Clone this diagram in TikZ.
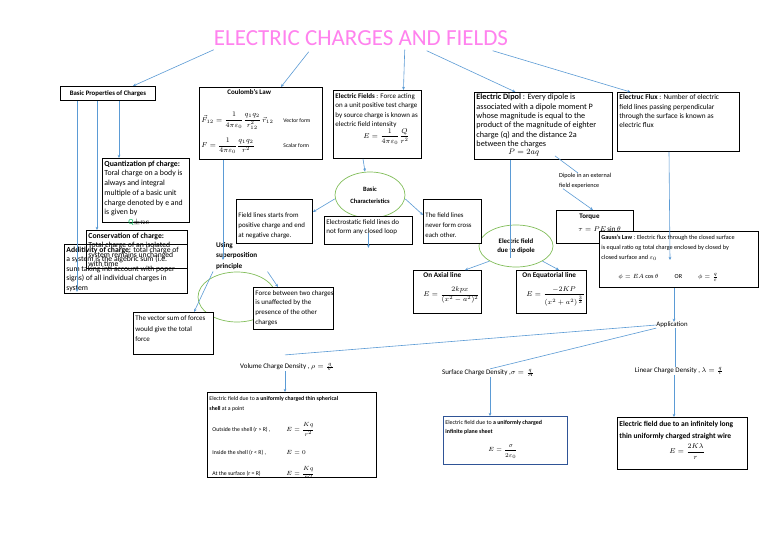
\documentclass[tikz,border=0pt]{standalone}
\usepackage{amsmath}
\usepackage{fontspec}
\setmainfont{Carlito}
\usetikzlibrary{arrows.meta,shapes.geometric}

\definecolor{titlepink}{RGB}{255,130,238}
\definecolor{linkblue}{RGB}{91,155,213}
\definecolor{ringgreen}{RGB}{130,190,90}
\definecolor{sheetblue}{RGB}{47,84,150}
\definecolor{qgreen}{RGB}{0,176,80}

% top aligned text block: width, height, lines
\newcommand\tb[3]{\parbox[t][#2pt][t]{#1pt}{\begin{tabular}[t]{@{}l@{}}#3\end{tabular}}}
\newcommand\fsz[2]{\fontsize{#1}{#2}\selectfont}

\tikzset{
  box/.style={draw, line width=0.9pt, fill=white, inner xsep=2pt, inner ysep=1pt, anchor=north west},
  clearbox/.style={box, fill=none},
  ring/.style={ellipse, draw=ringgreen, line width=0.7pt, inner sep=0pt, align=center},
  arr/.style={draw=linkblue, line width=0.6pt, -{Stealth[length=3.2pt,width=2.8pt]}},
  link/.style={draw=linkblue, line width=0.6pt},
  lbl/.style={inner sep=0pt, align=left},
}

\begin{document}
\begin{tikzpicture}[x=1pt,y=-1pt]
\useasboundingbox[fill=white] (0,0) rectangle (768,543);

\node[font=\fsz{23}{27}, text=titlepink, inner sep=0pt] (title) at (361,38) {ELECTRIC CHARGES AND FIELDS};

% green rings
\node[ring, minimum width=70pt, minimum height=46pt, font=\bfseries\fsz{6.5}{12}] (bc) at (370,195) {Basic\\Characteristics};
\node[ring, minimum width=78pt, minimum height=50pt] (supring) at (237,297) {};
\node[ring, minimum width=74pt, minimum height=42pt, font=\bfseries\fsz{6.8}{9}] (dipring) at (516,246) {Electric field\\due to dipole};

% left column
\node[box, minimum width=95pt, minimum height=14pt, inner sep=0pt, font=\bfseries\fsz{6.8}{8}] (basic) at (60,86) {Basic Properties of Charges};
\node[box, font=\fsz{7.8}{9.7}] (quant) at (102,158) {\tb{83}{62}{\textbf{Quantization pf charge:}\\ Toral charge on a body is\\ always and integral\\ multiple of a basic unit\\ charge denoted by e and\\ is given by\\ \hspace*{24pt}{\color{qgreen}Q}$\pm ne$}};
\node[clearbox, font=\fsz{7.7}{9.5}] (cons) at (86,230) {\tb{97}{36}{\textbf{Conservation of charge:}\\ Total charge of an isolated\\ system remains unchanged\\ with time}};
\node[clearbox, font=\fsz{7.7}{9.5}] (addit) at (64,244) {\tb{119}{47}{\textbf{Additivity of charge:} total charge of\\ a system is the algebric sum (i.e.\\ sum taking inti account with poper\\ signs) of all individual charges in\\ system}};

% Coulomb
\node[box, font=\fsz{7}{9}] (coul) at (199,87) {\tb{119}{70}{\hspace*{26pt}\textbf{Coulomb's Law}\\[15pt]
  \makebox[82pt][l]{$\vec{F}_{12}=\dfrac{1}{4\pi\varepsilon_0}\dfrac{q_1q_2}{r_{12}^2}\,\vec{r}_{12}$}{\fsz{5.6}{6}Vector form}\\[13pt]
  \makebox[82pt][l]{$F=\dfrac{1}{4\pi\varepsilon_0}\dfrac{q_1q_2}{r^2}$}{\fsz{5.6}{6}Scalar form}}};
\node[lbl, anchor=north west, font=\bfseries\fsz{7.2}{10.5}] (usp) at (216,242) {Using\\superposition\\principle};
\node[box, font=\fsz{7}{10.5}] (vecsum) at (133,312) {\tb{76}{40}{The vector sum of forces\\ would give the total\\ force}};
\node[box, font=\fsz{7}{9.7}] (force) at (253,287) {\tb{76}{40}{Force between two charges\\ is unaffected by the\\ presence of the other\\ charges}};

% electric field
\node[box, font=\fsz{7}{9.5}] (efield) at (333,90) {\tb{84}{66}{\textbf{Electric Fields} : Force acting\\ on a unit positive test charge\\ by source charge is known as\\ electric field intensity\\[-1pt] \hspace*{28pt}$E=\dfrac{1}{4\pi\varepsilon_0}\dfrac{Q}{r^2}$}};
\node[box, font=\fsz{6.9}{10}] (fl1) at (236,199) {\tb{72}{42}{\\ Field lines starts from\\ positive charge and end\\ at negative charge.}};
\node[box, font=\fsz{7}{9.5}] (fl2) at (324,216) {\tb{84}{26}{Electrostatic field lines do\\ not form any closed loop}};
\node[box, font=\fsz{6.8}{10}] (fl3) at (423,199) {\tb{54}{42}{\\ The field lines\\ never form cross\\ each other.}};

% dipole
\node[box, font=\fsz{8.2}{9.3}] (dipol) at (474,92) {\tb{134}{65}{\textbf{Electric Dipol} : Every dipole is\\ associated with a dipole moment P\\ whose magnitude is equal to the\\ product of the magnitude of eighter\\ charge (q) and the distance 2a\\ between the charges\\[-1pt] \hspace*{32pt}$P=2aq$}};
\node[lbl, anchor=north west, font=\fsz{6.2}{10}] (dipext) at (559,173) {Dipole in an external\\field experience};
\node[box, font=\fsz{7}{10}] (torque) at (556,210) {\tb{73}{31}{\hspace*{21pt}\textbf{Torque}\\[3pt] \hspace*{20pt}$\tau = PE\sin\theta$}};
\node[box, font=\fsz{7.2}{9}] (axial) at (413,270) {\tb{64}{41}{\hspace*{8pt}\textbf{On Axial line}\\[6pt] \hspace*{8pt}$E=\dfrac{2kpx}{(x^2-a^2)^2}$}};
\node[box, font=\fsz{7.2}{9}] (equat) at (516,270) {\tb{66}{41}{\hspace*{4pt}\textbf{On Equatorial line}\\[6pt] \hspace*{8pt}$E=\dfrac{-2KP}{(x^2+a^2)^{\frac{3}{2}}}$}};

% flux
\node[box, font=\fsz{7.3}{9.3}] (flux) at (617,92) {\tb{118}{57}{\textbf{Electruc Flux} : Number of electric\\ field lines passing perpendicular\\ through the surface is known as\\ electric flux}};
\node[box, font=\fsz{6.2}{10}] (gauss) at (599,231) {\tb{155}{54}{\textbf{Gauss's Law} : Electric flux through the closed surface\\ is equal ratio og total charge enclosed by closed by\\ closed surface and $\varepsilon_0$\\[9pt] \hspace*{17pt}$\phi = EA\cos\theta$\hspace{16pt}OR\hspace{16pt}$\phi=\frac{q}{\varepsilon}$}};

% applications
\node[lbl, font=\fsz{6.8}{8}] (appl) at (672,325) {Application};
\node[lbl, font=\fsz{7}{8}] (vol) at (287,367) {Volume Charge Density , $\rho=\frac{q}{V}$};
\node[lbl, font=\fsz{7}{8}] (surf) at (488,373) {Surface Charge Density ,$\sigma=\frac{q}{A}$};
\node[lbl, font=\fsz{7}{8}] (lin) at (679,371) {Linear Charge Density , $\lambda=\frac{q}{l}$};

\begin{scope}
  \clip (205,390) rectangle (378,477.5);
  \node[box, font=\fsz{5.8}{10}] (shell) at (207,392) {\tb{165}{83}{Electric field due to \textbf{a uniformly charged thin spherical}\\ \textbf{shell} at a point\\[9pt]
    \hspace*{3pt}\makebox[74pt][l]{Outside the shell (r > R) ,}$E=\dfrac{Kq}{r^2}$\\[13pt]
    \hspace*{3pt}\makebox[74pt][l]{Inside the shell (r < R) ,}$E=0$\\[9pt]
    \hspace*{3pt}\makebox[74pt][l]{At the surface (r = R)}$E=\dfrac{Kq}{R^2}$}};
\end{scope}
\node[box, draw=sheetblue, font=\fsz{5.9}{9.5}] (sheet) at (443,416) {\tb{120}{46}{Electric field due to \textbf{a uniformly charged}\\ \textbf{infinite plane sheet}\\[8pt] \hspace*{43pt}$E=\dfrac{\sigma}{2\varepsilon_0}$}};
\node[box, font=\bfseries\fsz{7.5}{11.7}] (wire) at (617,417) {\tb{126}{50}{Electric field due to an infinitely long\\ thin uniformly charged straight wire\\[2pt] \hspace*{50pt}$E=\dfrac{2K\lambda}{r}$}};

% connectors from the title
\draw[arr] ([yshift=-4pt]title.south west) -- ([xshift=25pt]basic.north);
\draw[arr] ([xshift=95pt,yshift=-6pt]title.south west) -- ([xshift=20pt]coul.north);
\draw[arr] ([xshift=191pt,yshift=-4pt]title.south west) -- ([xshift=26pt]efield.north);
\draw[arr] ([xshift=213pt,yshift=-5pt]title.south west) -- ([xshift=-28pt]dipol.north);
\draw[arr] ([xshift=279pt,yshift=-5pt]title.south west) -- ([xshift=-48pt]flux.north);

% basic properties
\draw[arr] ([xshift=59pt]basic.south west) -- ([xshift=17pt]quant.north west);
\draw[arr] ([xshift=37pt]basic.south west) -- ([xshift=11pt]cons.north west);
\draw[arr] ([xshift=17pt]basic.south west) -- ([xshift=13pt,yshift=2pt]addit.south west);

% coulomb
\draw[arr] ([xshift=24pt]coul.south west) -- ([xshift=7pt,yshift=-18pt]usp.north west);
\draw[arr] ([xshift=-3pt,yshift=-2pt]usp.south west) -- ([xshift=61pt]vecsum.north west);
\draw[arr] ([xshift=10pt,yshift=-2pt]usp.south east) -- ([xshift=25pt]force.north west);

% field lines
\draw[arr] ([xshift=30pt]efield.south west) -- ([xshift=-5pt]bc.north);
\draw[arr] ([yshift=-4pt]bc.west) -- ([yshift=-13pt]fl1.north east);
\draw[arr] ([yshift=-4pt]bc.east) -- ([yshift=-16pt]fl3.north west);
\draw[arr] ([yshift=-17pt]fl2.north) -- ([yshift=-3pt]fl2.south);

% dipole
\draw[link] ([xshift=36pt]dipol.south west) -- ([xshift=-6pt,yshift=-12pt]dipring.center);
\draw[link] ([xshift=81pt,yshift=4pt]dipol.south west) -- ([xshift=19pt]dipext.north west);
\draw[arr] ([xshift=4pt]dipext.south west) -- ([xshift=-2pt]torque.north);
\draw[arr] (dipring.south west) -- ([xshift=52pt]axial.north west);
\draw[arr] (dipring.south east) -- ([xshift=43pt]equat.north west);

% flux and gauss
\draw[arr] ([xshift=52pt]flux.south west) -- ([xshift=71pt,yshift=-29pt]gauss.north west);
\draw[arr] ([xshift=75pt]gauss.south west) -- ([xshift=2pt]appl.north);
\draw[link] ([xshift=3pt]appl.south) -- ([xshift=-4pt]lin.north);
\draw[link] (appl.west) -- ([xshift=-2pt,yshift=8pt]vol.north);
\draw[link] (appl.south west) -- ([xshift=2pt]surf.north);

% densities
\draw[arr] ([xshift=-2pt]vol.south) -- ([xshift=78pt]shell.north west);
\draw[arr] ([xshift=2pt]surf.south) -- ([xshift=47pt]sheet.north west);
\draw[arr] ([xshift=-5pt]lin.south) -- ([xshift=57pt]wire.north west);
\end{tikzpicture}
\end{document}
